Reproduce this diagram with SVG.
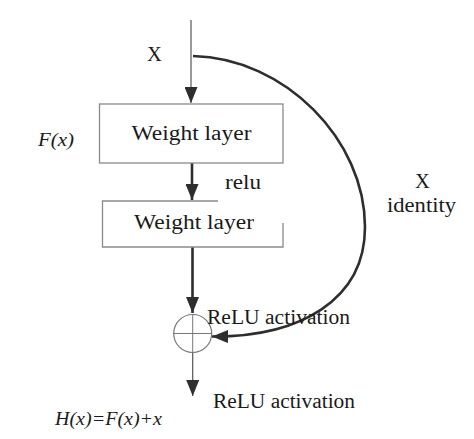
<svg xmlns="http://www.w3.org/2000/svg" width="474" height="439" viewBox="0 0 474 439">
<style>
text{font-family:"Liberation Serif","Times New Roman",serif;fill:#1a1a1a;}
.lbl{font-size:20.5px;}
.it{font-style:italic;font-size:19px;}
.box{fill:#fff;stroke:#8a8a8a;stroke-width:1.3;}
.thin{fill:none;stroke:#555;stroke-width:1.2;}
.thick{fill:none;stroke:#2e2e2e;stroke-width:2.6;}
</style>
<defs>
<marker id="ah" markerUnits="userSpaceOnUse" viewBox="0 0 16 13" refX="16" refY="6.5" markerWidth="16" markerHeight="13" orient="auto">
<path d="M0,0 L16,6.5 L0,13 Z" fill="#2e2e2e"/>
</marker>
</defs>
<rect width="474" height="439" fill="#fff"/>
<g id="connectors">
<line class="thin" x1="191" y1="20" x2="191" y2="103" marker-end="url(#ah)"/>
<line class="thick" x1="192" y1="163" x2="192" y2="200" marker-end="url(#ah)"/>
<line class="thick" x1="192.5" y1="247" x2="192.5" y2="313" marker-end="url(#ah)"/>
<line class="thin" x1="192.7" y1="352" x2="192.7" y2="396" marker-end="url(#ah)"/>
<path class="thick" d="M193,56 C285,58 365,140 365,227 C365,300 300,337 212,336.5" marker-end="url(#ah)"/>
</g>
<g id="input">
<text class="lbl" x="147" y="61">X</text>
</g>
<g id="fx-label">
<text class="it" x="38" y="146" textLength="36" lengthAdjust="spacingAndGlyphs">F(x)</text>
</g>
<g id="weight1">
<rect class="box" x="99.5" y="104" width="183.5" height="59"/>
<text class="lbl" x="131.5" y="140" textLength="120" lengthAdjust="spacingAndGlyphs">Weight layer</text>
</g>
<g id="relu">
<text class="lbl" x="225" y="189" textLength="36" lengthAdjust="spacingAndGlyphs">relu</text>
</g>
<g id="weight2">
<path class="box" d="M218,201 H102.5 V247 H283 V223"/>
<text class="lbl" x="134" y="229" textLength="120" lengthAdjust="spacingAndGlyphs">Weight layer</text>
</g>
<g id="identity-label">
<text class="lbl" x="415" y="188">X</text>
<text class="lbl" x="387" y="212" textLength="69" lengthAdjust="spacingAndGlyphs">identity</text>
</g>
<g id="sum">
<circle cx="192.7" cy="333.5" r="19" fill="none" stroke="#777" stroke-width="1.2"/>
<line x1="173.7" y1="333.5" x2="211.7" y2="333.5" stroke="#777" stroke-width="1"/>
<line x1="192.7" y1="314.5" x2="192.7" y2="352.5" stroke="#777" stroke-width="1"/>
<text class="lbl" x="207" y="323.5" textLength="143" lengthAdjust="spacingAndGlyphs">ReLU activation</text>
</g>
<g id="output">
<text class="lbl" x="213" y="408" textLength="142" lengthAdjust="spacingAndGlyphs">ReLU activation</text>
<text class="it" x="55" y="425" textLength="107" lengthAdjust="spacingAndGlyphs">H(x)=F(x)+x</text>
</g>
</svg>
